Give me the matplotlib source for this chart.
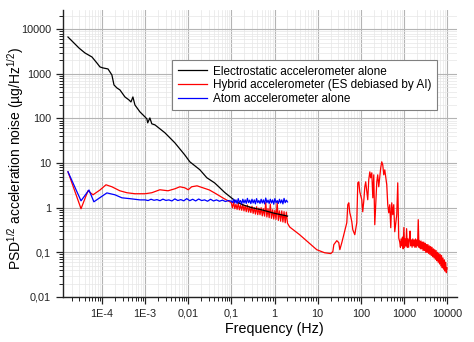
import numpy as np
import matplotlib
matplotlib.use('Agg')
import matplotlib.pyplot as plt
from matplotlib.ticker import FixedLocator, FixedFormatter, LogLocator, NullFormatter

plt.rcParams['font.family'] = ['Liberation Sans', 'DejaVu Sans']
plt.rcParams['mathtext.fontset'] = 'custom'
plt.rcParams['mathtext.rm'] = 'Liberation Sans'
plt.rcParams['mathtext.it'] = 'Liberation Sans:italic'

# electrostatic accelerometer alone
es_freq = [1.63e-5, 2.02e-5, 2.94e-5, 4.04e-5, 5.87e-5, 7.65e-5, 9.0e-5, 1.05e-4, 1.38e-4,
           1.70e-4, 1.90e-4, 2.22e-4, 2.61e-4, 3.41e-4, 4.22e-4, 4.7e-4, 5.22e-4, 5.81e-4,
           7.58e-4, 9.9e-4, 1.1e-3, 1.15e-3, 1.29e-3, 1.43e-3, 1.69e-3, 2.87e-3, 4.9e-3,
           8.3e-3, 1.09e-2, 1.86e-2, 2.7e-2, 0.041, 0.054, 0.07, 0.1, 0.13, 0.18, 0.3,
           0.5, 1.0, 2.0]
es_vals = [6700, 5450, 3790, 2940, 2390, 1750, 1430, 1360, 1290,
           945, 565, 484, 437, 304, 261, 235, 304, 201,
           141, 109, 98, 80, 103, 76, 72, 48, 28.5,
           15.3, 10.7, 7.1, 4.7, 3.6, 2.8, 2.2, 1.67, 1.36, 1.17, 1.0,
           0.9, 0.75, 0.65]

# hybrid accelerometer, low-frequency part
hy_freq_lo = [1.63e-5, 3.27e-5, 4.74e-5, 6.19e-5, 9e-5, 1.24e-4, 1.7e-4, 2.6e-4, 3.8e-4,
              5.8e-4, 1e-3, 1.43e-3, 2.2e-3, 3.4e-3, 4.9e-3, 6.4e-3, 8.3e-3, 0.01, 0.012,
              0.016, 0.022, 0.031, 0.044, 0.063, 0.1]
hy_vals_lo = [6.4, 0.95, 2.4, 1.95, 2.5, 3.27, 2.95, 2.4, 2.17,
              2.06, 2.06, 2.17, 2.53, 2.4, 2.66, 2.95, 2.8, 2.53, 2.95,
              3.1, 2.8, 2.5, 2.06, 1.67, 1.3]
# hybrid, noisy band 0.1 - 2 Hz
hy_band1 = [1.25, 1.0, 1.35, 0.95, 1.2, 0.92, 1.25, 0.9, 1.15, 0.88, 1.2, 0.85, 1.1, 0.82,
            1.15, 0.8, 1.05, 0.78, 1.08, 0.75, 1.0, 0.72, 1.05, 0.7, 0.98, 0.7, 1.0, 0.66,
            0.95, 0.65, 1.3, 0.62, 0.95, 0.6, 1.2, 0.58, 0.9, 0.56, 0.88, 0.55, 1.3, 0.52,
            0.85, 0.5, 0.85, 0.48, 0.82, 0.46, 0.8, 0.45]
# hybrid, 2 Hz - 800 Hz
hy_freq_mid = [2.25, 3.8, 9.5, 14.5, 20.2, 22.5, 23.7, 27.8, 30.9, 32.7, 36.3, 40.4, 45,
               47.4, 50, 52.7, 55.6, 58.7, 61.9, 65.3, 72.6, 80.8, 85.2, 89.9, 94.8, 105.5,
               111, 117, 124, 130, 138, 145, 153, 162, 170, 180, 190, 200, 211, 235, 247,
               261, 290, 306, 323, 341, 360, 400, 422, 445, 470, 495, 522, 551, 581, 613,
               682, 719, 759]
hy_vals_mid = [0.37, 0.25, 0.115, 0.098, 0.094, 0.104, 0.149, 0.183, 0.165, 0.115, 0.165,
               0.249, 0.376, 0.462, 1.17, 1.29, 0.773, 0.629, 0.486, 0.322, 0.249, 0.462,
               3.62, 3.81, 2.28, 1.51, 0.814, 1.36, 2.95, 3.81, 2.28, 1.51, 4.23, 6.37,
               4.69, 6.06, 1.67, 5.47, 0.417, 3.81, 5.47, 2.95, 7.86, 10.7, 9.18, 5.47,
               7.07, 3.27, 1.17, 0.77, 1.17, 0.357, 1.29, 0.70, 1.17, 0.29, 0.70, 3.62,
               0.21]
# hybrid, noisy band 800 Hz - 10 kHz
hy_band2 = [0.17, 0.13, 0.2, 0.14, 0.22, 0.12,
            0.36, 0.13, 0.2, 0.14, 0.34, 0.13,
            0.2, 0.13, 0.19, 0.3, 0.14, 0.19, 0.13,
            0.2, 0.14, 0.19, 0.13, 0.2, 0.13,
            0.19, 0.14, 0.54, 0.13, 0.18, 0.12,
            0.18, 0.12, 0.17, 0.11, 0.17, 0.11,
            0.16, 0.1, 0.15, 0.1, 0.15, 0.095, 0.14,
            0.09, 0.135, 0.085, 0.13, 0.08, 0.12,
            0.075, 0.115, 0.07, 0.11, 0.065, 0.1,
            0.06, 0.095, 0.055, 0.09, 0.05, 0.085,
            0.045, 0.075, 0.042, 0.068, 0.038, 0.06, 0.035, 0.045]

# atom accelerometer alone
ai_freq_lo = [1.63e-5, 3.27e-5, 5e-5, 6.5e-5, 1.3e-4, 2e-4, 2.9e-4, 4.4e-4, 7.6e-4]
ai_vals_lo = [6.4, 1.43, 2.5, 1.36, 2.15, 1.95, 1.67, 1.6, 1.5]
ai_wiggle = [1.5, 1.45, 1.55, 1.47, 1.52, 1.44, 1.56, 1.46, 1.5, 1.42, 1.58, 1.45, 1.52,
             1.43, 1.6, 1.44, 1.55, 1.42, 1.57, 1.45, 1.5, 1.4, 1.55, 1.42, 1.5, 1.4,
             1.48, 1.38, 1.45, 1.4]
ai_band = [1.45, 1.3, 1.55, 1.28, 1.5, 1.25, 1.6, 1.3, 1.45, 1.22, 1.55, 1.28, 1.5, 1.25,
           1.62, 1.3, 1.48, 1.24, 1.55, 1.28, 1.5, 1.22, 1.6, 1.3, 1.45, 1.25, 1.55, 1.28,
           1.5, 1.22, 1.65, 1.3, 1.48, 1.25, 1.55, 1.28, 1.5, 1.2, 1.6, 1.3, 1.45, 1.25,
           1.55, 1.28, 1.5, 1.22, 1.62, 1.3, 1.48, 1.35]

x_ticks = [1e-4, 1e-3, 1e-2, 1e-1, 1, 10, 100, 1000, 10000]
x_labels = ['1E-4', '1E-3', '0,01', '0,1', '1', '10', '100', '1000', '10000']
y_ticks = [0.01, 0.1, 1, 10, 100, 1000, 10000]
y_labels = ['0,01', '0,1', '1', '10', '100', '1000', '10000']

hy_freq = np.concatenate([hy_freq_lo, np.geomspace(0.1, 2.0, len(hy_band1)),
                          hy_freq_mid, np.geomspace(800, 10000, len(hy_band2))])
hy_vals = np.concatenate([hy_vals_lo, hy_band1, hy_vals_mid, hy_band2])
ai_freq = np.concatenate([ai_freq_lo, np.geomspace(1e-3, 0.1, len(ai_wiggle)),
                          np.geomspace(0.1, 2.0, len(ai_band))[1:]])
ai_vals = np.concatenate([ai_vals_lo, ai_wiggle, ai_band[1:]])

fig = plt.figure(figsize=(4.74, 3.42), dpi=100)
ax = fig.add_axes([63 / 474, 1 - 297 / 342, 394 / 474, 287 / 342])

ax.plot(es_freq, es_vals, color='black', lw=0.9, zorder=3, label='Electrostatic accelerometer alone')
ax.plot(hy_freq, hy_vals, color='#ff0000', lw=0.9, zorder=2, label='Hybrid accelerometer (ES debiased by AI)')
ax.plot(ai_freq, ai_vals, color='#0000ff', lw=0.9, zorder=4, label='Atom accelerometer alone')

ax.set_xscale('log')
ax.set_yscale('log')
ax.set_xlim(1.25e-5, 1.7e4)
ax.set_ylim(0.01, 2.7e4)

ax.xaxis.set_major_locator(FixedLocator(x_ticks))
ax.xaxis.set_major_formatter(FixedFormatter(x_labels))
ax.yaxis.set_major_locator(FixedLocator(y_ticks))
ax.yaxis.set_major_formatter(FixedFormatter(y_labels))
ax.xaxis.set_minor_locator(LogLocator(base=10, subs=np.arange(2, 10), numticks=30))
ax.yaxis.set_minor_locator(LogLocator(base=10, subs=np.arange(2, 10), numticks=30))
ax.xaxis.set_minor_formatter(NullFormatter())
ax.yaxis.set_minor_formatter(NullFormatter())

ax.grid(True, which='major', color='#b4b4b4', lw=0.8)
ax.grid(True, which='minor', color='#e6e6e6', lw=0.5)
ax.set_axisbelow(True)

for side in ['top', 'right']:
    ax.spines[side].set_visible(False)
for side in ['left', 'bottom']:
    ax.spines[side].set_color('#222222')
    ax.spines[side].set_linewidth(1.0)

ax.tick_params(which='major', direction='out', length=5, width=0.9, labelsize=7.8, colors='#222222')
ax.tick_params(which='minor', direction='out', length=3, width=0.7, colors='#222222')

ax.set_xlabel('Frequency (Hz)', fontsize=10.3)
ax.set_ylabel('PSD$^{1/2}$ acceleration noise (µg/Hz$^{1/2}$)', fontsize=10)
ax.xaxis.set_label_coords(0.537, -0.087)
ax.yaxis.set_label_coords(-0.094, 0.481)

leg = ax.legend(loc='upper right', bbox_to_anchor=(0.949, 0.825), fontsize=8.5,
                fancybox=False, edgecolor='#808080', framealpha=1, borderpad=0.45,
                labelspacing=0.15, handlelength=2.5, handletextpad=0.5, borderaxespad=0)
leg.get_frame().set_linewidth(0.8)

fig.savefig('out.png', dpi=100)
